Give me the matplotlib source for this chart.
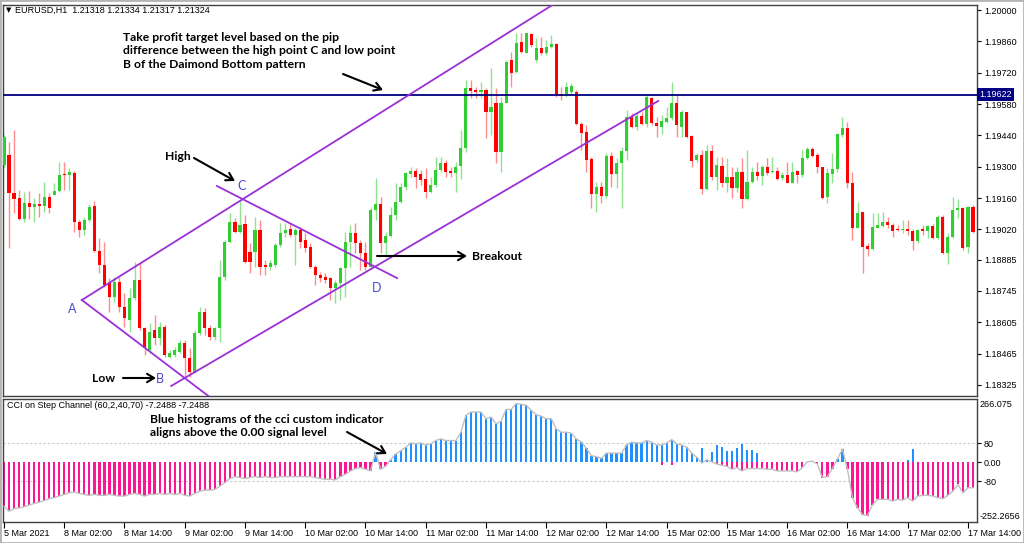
import numpy as np
import matplotlib
matplotlib.use('Agg')
import matplotlib.pyplot as plt
from matplotlib.patches import FancyArrowPatch, Rectangle
from matplotlib.transforms import Affine2D, blended_transform_factory

# EURUSD H1 candles, 5 Mar 14:00 .. 17 Mar 15:00
opens = [
    1.19307, 1.19352, 1.19182, 1.19160, 1.19066, 1.19138, 1.19120, 1.19133, 1.19124, 1.19164,
    1.19173, 1.19191, 1.19267, 1.19263, 1.19272, 1.19053, 1.19017, 1.19062, 1.19124, 1.18923,
    1.18860, 1.18780, 1.18717, 1.18784, 1.18673, 1.18615, 1.18713, 1.18793, 1.18579, 1.18481,
    1.18570, 1.18534, 1.18583, 1.18449, 1.18458, 1.18472, 1.18512, 1.18445, 1.18382, 1.18557,
    1.18650, 1.18579, 1.18539, 1.18579, 1.18807, 1.18963, 1.19053, 1.19008, 1.19044, 1.18919,
    1.18919, 1.19017, 1.18860, 1.18851, 1.18860, 1.18950, 1.19004, 1.19021, 1.18995, 1.19017,
    1.18972, 1.18941, 1.18851, 1.18816, 1.18807, 1.18802, 1.18758, 1.18780, 1.18847, 1.18963,
    1.19004, 1.18959, 1.18914, 1.18851, 1.19106, 1.19133, 1.18959, 1.18990, 1.19084, 1.19142,
    1.19209, 1.19267, 1.19281, 1.19267, 1.19245, 1.19187, 1.19218, 1.19285, 1.19316, 1.19281,
    1.19272, 1.19303, 1.19383, 1.19652, 1.19643, 1.19634, 1.19643, 1.19544, 1.19585, 1.19366,
    1.19585, 1.19777, 1.19723, 1.19857, 1.19808, 1.19893, 1.19777, 1.19830, 1.19808, 1.19835,
    1.19848, 1.19625, 1.19625, 1.19634, 1.19634, 1.19491, 1.19455, 1.19334, 1.19178, 1.19209,
    1.19169, 1.19348, 1.19267, 1.19316, 1.19370, 1.19522, 1.19477, 1.19527, 1.19491, 1.19607,
    1.19495, 1.19477, 1.19500, 1.19518, 1.19585, 1.19477, 1.19544, 1.19437, 1.19330, 1.19352,
    1.19200, 1.19370, 1.19254, 1.19303, 1.19227, 1.19254, 1.19205, 1.19276, 1.19156, 1.19231,
    1.19276, 1.19258, 1.19298, 1.19276, 1.19281, 1.19249, 1.19263, 1.19227, 1.19281, 1.19263,
    1.19339, 1.19379, 1.19352, 1.19298, 1.19164, 1.19267, 1.19290, 1.19442, 1.19473, 1.19227,
    1.19026, 1.19097, 1.18945, 1.18932, 1.19026, 1.19035, 1.19053, 1.19039, 1.19021, 1.19017,
    1.19021, 1.19012, 1.18968, 1.19021, 1.19012, 1.19035, 1.18981, 1.19075, 1.18914, 1.18986,
    1.19106, 1.19115, 1.18941, 1.19120,
]
highs = [
    1.19442, 1.19410, 1.19464, 1.19196, 1.19187, 1.19191, 1.19160, 1.19182, 1.19231, 1.19182,
    1.19227, 1.19321, 1.19321, 1.19294, 1.19281, 1.19062, 1.19075, 1.19133, 1.19147, 1.18981,
    1.18963, 1.18802, 1.18807, 1.18807, 1.18735, 1.18758, 1.18874, 1.18869, 1.18583, 1.18601,
    1.18637, 1.18606, 1.18592, 1.18481, 1.18494, 1.18525, 1.18525, 1.18489, 1.18570, 1.18673,
    1.18668, 1.18592, 1.18583, 1.18883, 1.18972, 1.19093, 1.19071, 1.19151, 1.19084, 1.18959,
    1.19075, 1.19062, 1.18883, 1.18883, 1.18959, 1.19048, 1.19048, 1.19048, 1.19026, 1.19030,
    1.19004, 1.18959, 1.18860, 1.18829, 1.18825, 1.18807, 1.18793, 1.18851, 1.19008, 1.19039,
    1.19048, 1.18972, 1.18963, 1.19120, 1.19249, 1.19164, 1.19008, 1.19120, 1.19227, 1.19227,
    1.19276, 1.19298, 1.19294, 1.19285, 1.19294, 1.19254, 1.19343, 1.19343, 1.19330, 1.19298,
    1.19321, 1.19464, 1.19687, 1.19687, 1.19656, 1.19678, 1.19652, 1.19741, 1.19652, 1.19611,
    1.19777, 1.19813, 1.19897, 1.19897, 1.19897, 1.19897, 1.19875, 1.19880, 1.19866, 1.19889,
    1.19853, 1.19656, 1.19678, 1.19674, 1.19643, 1.19500, 1.19486, 1.19343, 1.19231, 1.19231,
    1.19361, 1.19366, 1.19339, 1.19388, 1.19553, 1.19540, 1.19540, 1.19544, 1.19620, 1.19611,
    1.19522, 1.19531, 1.19567, 1.19678, 1.19620, 1.19553, 1.19544, 1.19442, 1.19361, 1.19375,
    1.19397, 1.19397, 1.19343, 1.19343, 1.19339, 1.19298, 1.19298, 1.19339, 1.19375, 1.19298,
    1.19321, 1.19307, 1.19339, 1.19343, 1.19298, 1.19276, 1.19321, 1.19321, 1.19285, 1.19375,
    1.19388, 1.19388, 1.19361, 1.19298, 1.19294, 1.19361, 1.19450, 1.19522, 1.19500, 1.19276,
    1.19142, 1.19097, 1.18959, 1.19093, 1.19093, 1.19097, 1.19075, 1.19048, 1.19039, 1.19062,
    1.19062, 1.19021, 1.19021, 1.19039, 1.19039, 1.19044, 1.19084, 1.19084, 1.19004, 1.19164,
    1.19156, 1.19120, 1.19124, 1.19129,
]
lows = [
    1.19298, 1.18936, 1.19093, 1.19062, 1.19053, 1.19066, 1.19053, 1.19075, 1.19097, 1.19093,
    1.19173, 1.19187, 1.19196, 1.19196, 1.19008, 1.18986, 1.18995, 1.19053, 1.18919, 1.18825,
    1.18762, 1.18650, 1.18695, 1.18650, 1.18583, 1.18561, 1.18704, 1.18570, 1.18458, 1.18467,
    1.18503, 1.18503, 1.18449, 1.18445, 1.18449, 1.18467, 1.18360, 1.18360, 1.18378, 1.18548,
    1.18548, 1.18525, 1.18525, 1.18516, 1.18793, 1.18959, 1.19004, 1.19004, 1.18869, 1.18825,
    1.18851, 1.18816, 1.18816, 1.18838, 1.18851, 1.18941, 1.18986, 1.18986, 1.18860, 1.18936,
    1.18919, 1.18847, 1.18771, 1.18784, 1.18780, 1.18704, 1.18690, 1.18704, 1.18717, 1.18851,
    1.18914, 1.18838, 1.18838, 1.18847, 1.19062, 1.18914, 1.18896, 1.18986, 1.19062, 1.19138,
    1.19196, 1.19254, 1.19205, 1.19218, 1.19160, 1.19182, 1.19209, 1.19276, 1.19254, 1.19254,
    1.19187, 1.19245, 1.19366, 1.19607, 1.19609, 1.19609, 1.19428, 1.19442, 1.19316, 1.19276,
    1.19585, 1.19656, 1.19719, 1.19808, 1.19808, 1.19835, 1.19768, 1.19799, 1.19799, 1.19830,
    1.19611, 1.19598, 1.19611, 1.19620, 1.19486, 1.19375, 1.19276, 1.19115, 1.19097, 1.19138,
    1.19160, 1.19209, 1.19205, 1.19115, 1.19330, 1.19473, 1.19464, 1.19486, 1.19477, 1.19486,
    1.19433, 1.19446, 1.19495, 1.19509, 1.19433, 1.19433, 1.19428, 1.19298, 1.19321, 1.19178,
    1.19196, 1.19240, 1.19196, 1.19209, 1.19187, 1.19160, 1.19187, 1.19115, 1.19151, 1.19227,
    1.19240, 1.19218, 1.19263, 1.19272, 1.19240, 1.19240, 1.19227, 1.19227, 1.19227, 1.19254,
    1.19334, 1.19343, 1.19272, 1.19156, 1.19138, 1.19227, 1.19276, 1.19433, 1.19205, 1.18972,
    1.19026, 1.18825, 1.18901, 1.18928, 1.19026, 1.19030, 1.19026, 1.18986, 1.19012, 1.19004,
    1.18995, 1.18928, 1.18959, 1.18995, 1.18981, 1.18977, 1.18977, 1.18910, 1.18865, 1.18981,
    1.19071, 1.18928, 1.18914, 1.19004,
]
closes = [
    1.19433, 1.19182, 1.19156, 1.19066, 1.19138, 1.19120, 1.19133, 1.19124, 1.19164, 1.19115,
    1.19191, 1.19263, 1.19263, 1.19276, 1.19053, 1.19017, 1.19062, 1.19120, 1.18923, 1.18860,
    1.18771, 1.18717, 1.18784, 1.18673, 1.18624, 1.18713, 1.18793, 1.18579, 1.18489, 1.18561,
    1.18534, 1.18583, 1.18458, 1.18467, 1.18481, 1.18512, 1.18445, 1.18382, 1.18557, 1.18650,
    1.18579, 1.18539, 1.18579, 1.18807, 1.18963, 1.19053, 1.19008, 1.19039, 1.18874, 1.18874,
    1.19017, 1.18851, 1.18851, 1.18869, 1.18950, 1.19004, 1.19017, 1.18995, 1.19017, 1.18963,
    1.18936, 1.18851, 1.18816, 1.18802, 1.18793, 1.18758, 1.18780, 1.18847, 1.18963, 1.19004,
    1.18959, 1.18914, 1.18851, 1.19106, 1.19133, 1.18959, 1.18990, 1.19084, 1.19142, 1.19209,
    1.19272, 1.19281, 1.19254, 1.19240, 1.19187, 1.19218, 1.19285, 1.19316, 1.19276, 1.19272,
    1.19298, 1.19383, 1.19652, 1.19638, 1.19634, 1.19643, 1.19544, 1.19567, 1.19366, 1.19585,
    1.19768, 1.19719, 1.19853, 1.19813, 1.19897, 1.19844, 1.19830, 1.19808, 1.19835, 1.19848,
    1.19625, 1.19616, 1.19656, 1.19661, 1.19491, 1.19450, 1.19330, 1.19178, 1.19209, 1.19169,
    1.19348, 1.19267, 1.19316, 1.19370, 1.19522, 1.19477, 1.19527, 1.19491, 1.19611, 1.19495,
    1.19482, 1.19504, 1.19518, 1.19585, 1.19486, 1.19544, 1.19433, 1.19325, 1.19352, 1.19200,
    1.19370, 1.19254, 1.19307, 1.19227, 1.19254, 1.19205, 1.19276, 1.19156, 1.19231, 1.19276,
    1.19258, 1.19298, 1.19272, 1.19281, 1.19245, 1.19263, 1.19227, 1.19276, 1.19263, 1.19339,
    1.19379, 1.19348, 1.19298, 1.19160, 1.19272, 1.19290, 1.19446, 1.19473, 1.19227, 1.19026,
    1.19093, 1.18941, 1.18932, 1.19030, 1.19039, 1.19053, 1.19039, 1.19012, 1.19017, 1.19021,
    1.19012, 1.18968, 1.19017, 1.19012, 1.19035, 1.18981, 1.19075, 1.18914, 1.18986, 1.19106,
    1.19115, 1.18936, 1.19120, 1.19008,
]

# CCI on Step Channel values (grey line), one per candle
cci = [
    -186, -207, -196, -193, -188, -181, -174, -169, -162, -154,
    -150, -143, -136, -129, -126, -132, -136, -140, -136, -140,
    -140, -136, -140, -143, -143, -136, -132, -136, -143, -136,
    -136, -132, -136, -132, -136, -132, -140, -143, -132, -122,
    -118, -118, -115, -101, -86, -69, -61, -65, -69, -65,
    -61, -65, -61, -65, -65, -61, -61, -61, -61, -61,
    -61, -61, -65, -69, -72, -72, -75, -61, -51, -37,
    -27, -23, -30, -37, 41, -30, -18, 10, 34, 48,
    62, 81, 77, 81, 72, 77, 91, 98, 91, 91,
    91, 126, 197, 211, 211, 211, 183, 190, 162, 172,
    222, 222, 247, 244, 240, 218, 200, 194, 183, 183,
    140, 126, 126, 122, 98, 84, 58, 27, 23, 16,
    38, 38, 38, 38, 72, 84, 81, 81, 91, 84,
    72, 72, 81, 95, 77, 72, 62, 38, 20, -4,
    10, 1, -8, -13, -18, -30, -23, -37, -27, -27,
    -27, -27, -30, -30, -37, -37, -37, -37, -41, -23,
    1, 4, -8, -65, -61, -27, 13, 55, -30, -150,
    -193, -221, -225, -179, -157, -157, -157, -164, -157, -160,
    -150, -164, -143, -140, -140, -143, -150, -154, -140, -122,
    -94, -129, -108, -108,
]
# histogram bars that differ from the line (bar index: value)
cci_blue_extra = {139: 58, 141: 44, 142: 72, 143: 62, 144: 48, 145: 48,
                  146: 58, 147: 77, 148: 51, 149: 51, 150: 37, 180: 8, 181: 55}
cci_pink_extra = {131: -10, 133: -13}

price_ticks = [1.20000, 1.19860, 1.19720, 1.19580, 1.19440, 1.19300, 1.19160,
               1.19020, 1.18885, 1.18745, 1.18605, 1.18465, 1.18325]
price_range = (1.18275, 1.20023)
cci_range = (-252.2656, 266.075)
tp_level = 1.19622
time_labels = ['5 Mar 2021', '8 Mar 02:00', '8 Mar 14:00', '9 Mar 02:00', '9 Mar 14:00',
               '10 Mar 02:00', '10 Mar 14:00', '11 Mar 02:00', '11 Mar 14:00',
               '12 Mar 02:00', '12 Mar 14:00', '15 Mar 02:00', '15 Mar 14:00',
               '16 Mar 02:00', '16 Mar 14:00', '17 Mar 02:00', '17 Mar 14:00']

# Diamond bottom trendlines: (bar, price) -> (bar, price)
trend_lines = [
    ((15.5, 1.18704), (112.0, 1.20062)),   # A -> C, extended
    ((15.5, 1.18704), (41.0, 1.18270)),    # A -> B
    ((33.3, 1.18320), (130.3, 1.19594)),   # B -> D, extended
    ((42.4, 1.19214), (78.3, 1.18802)),    # C -> D
]

plt.rcParams['font.family'] = ['Liberation Sans', 'DejaVu Sans']

W, H = 1024, 543
fig = plt.figure(figsize=(W / 100, H / 100), dpi=100)
px = Affine2D().scale(1 / W, -1 / H).translate(0, 1) + fig.transFigure


def box(l, t, r, b):
    return [l / W, 1 - b / H, (r - l) / W, (b - t) / H]


ax = fig.add_axes(box(3, 5, 977, 396))
ax2 = fig.add_axes(box(3, 399, 977, 522))

o, h, l, c = (np.array(a) for a in (opens, highs, lows, closes))
idx = np.arange(len(o))
up = c >= o

# candles
ax.vlines(idx, l, h, colors=np.where(up, '#8fe38f', '#ff8c8c'), lw=1, zorder=2)
ax.bar(idx, np.maximum(np.abs(c - o), 0.00004), bottom=np.minimum(o, c), width=0.62,
       color=np.where(up, '#32cd32', '#ff0000'), lw=0, zorder=3)

ax.axhline(tp_level, color='#000080', lw=1.3, zorder=4)
for (x0, y0), (x1, y1) in trend_lines:
    ax.plot([x0, x1], [y0, y1], color='#9b30d9', lw=1.3, zorder=5)

ax.set_xlim(-0.2, 193.8)
ax.set_ylim(*price_range)
ax.set_xticks([])
ax.set_yticks(price_ticks)
ax.set_yticklabels([f'{p:.5f}' for p in price_ticks])
ax.yaxis.tick_right()
ax.tick_params(axis='y', direction='out', length=3, width=0.8, pad=2, labelsize=6.5)
trans = blended_transform_factory(ax.transAxes, ax.transData)
ax.text(1.002, tp_level, f'{tp_level:.5f}', transform=trans, va='center', ha='left',
        fontsize=6.5, color='white',
        bbox=dict(boxstyle='square,pad=0.25', fc='#000080', ec='none'))

# indicator
v = np.array(cci, dtype=float)
blue = np.where(v > 0, v, 0.0)
pink = np.where(v < 0, v, 0.0)
for k, val in cci_blue_extra.items():
    blue[k] = val
for k, val in cci_pink_extra.items():
    pink[k] = val
ax2.bar(idx, blue, width=0.45, color='#1e90ff', lw=0, zorder=2)
ax2.bar(idx, pink, width=0.45, color='#ff1493', lw=0, zorder=2)
ax2.plot(idx, v, color='#c0c0c0', lw=1, zorder=3)
for lev in (80, -80):
    ax2.axhline(lev, color='#c8c8c8', lw=0.8, ls=(0, (2, 2)), zorder=1)
ax2.set_xlim(-0.2, 193.8)
ax2.set_ylim(*cci_range)
ax2.yaxis.tick_right()
ax2.set_yticks([80, 0, -80])
ax2.set_yticklabels(['80', '0.00', '-80'])
ax2.tick_params(axis='y', direction='out', length=3, width=0.8, pad=2, labelsize=6.5)
ax2.text(1.003, 0.99, '266.075', transform=ax2.transAxes, va='top', ha='left', fontsize=6.5)
ax2.text(1.003, 0.01, '-252.2656', transform=ax2.transAxes, va='bottom', ha='left', fontsize=6.5)
ax2.set_xticks(np.arange(0, 193, 12))
ax2.set_xticklabels(time_labels, ha='left')
ax2.tick_params(axis='x', direction='out', length=4, width=0.8, pad=1, labelsize=6.5)

for a in (ax, ax2):
    for s in a.spines.values():
        s.set_color('#404040')
        s.set_linewidth(1)

# header texts
fig.text(6, 10, '\u25bc', transform=px, fontsize=5, va='center',
         family=['DejaVu Sans'])
fig.text(15, 10, 'EURUSD,H1  1.21318 1.21334 1.21317 1.21324', transform=px,
         fontsize=6.5, va='center')
fig.text(7, 405, 'CCI on Step Channel (60,2,40,70) -7.2488 -7.2488', transform=px,
         fontsize=6.5, va='center')

# annotations
note = dict(transform=px, family=['Lato', 'DejaVu Sans'], weight='bold', fontsize=8.7,
            color='black', va='center')
fig.text(123, 51, 'Take profit target level based on the pip\n'
                  'difference between the high point C and low point\n'
                  'B of the Daimond Bottom pattern', linespacing=1.28, **note)
fig.text(165, 156, 'High', **note)
fig.text(92, 378, 'Low', **note)
fig.text(472, 256, 'Breakout', **note)
fig.text(150, 426, 'Blue histograms of the cci custom indicator\n'
                   'aligns above the 0.00 signal level', linespacing=1.28, **note)

letter = dict(transform=px, family=['Lato', 'DejaVu Sans'], fontsize=9,
              color='#4a4ad0', va='center', ha='center')
for name, (x, y) in {'A': (72, 309), 'B': (160, 379), 'C': (242, 186), 'D': (377, 288)}.items():
    fig.text(x, y, name, **letter)

arrows = [((343, 74), (383, 90)), ((194, 158), (235, 181)), ((123, 378), (156, 378)),
          ((377, 256), (467, 256)), ((347, 432), (387, 454))]
for p0, p1 in arrows:
    fig.add_artist(FancyArrowPatch(p0, p1, transform=px, arrowstyle='->,head_length=5,head_width=3',
                                   color='black', lw=1.5, shrinkA=0, shrinkB=0))

fig.add_artist(Rectangle((0, 0), 1, 1, transform=fig.transFigure, fill=False,
                         ec='#b4b4b4', lw=2))

fig.savefig('out.png', dpi=100)
